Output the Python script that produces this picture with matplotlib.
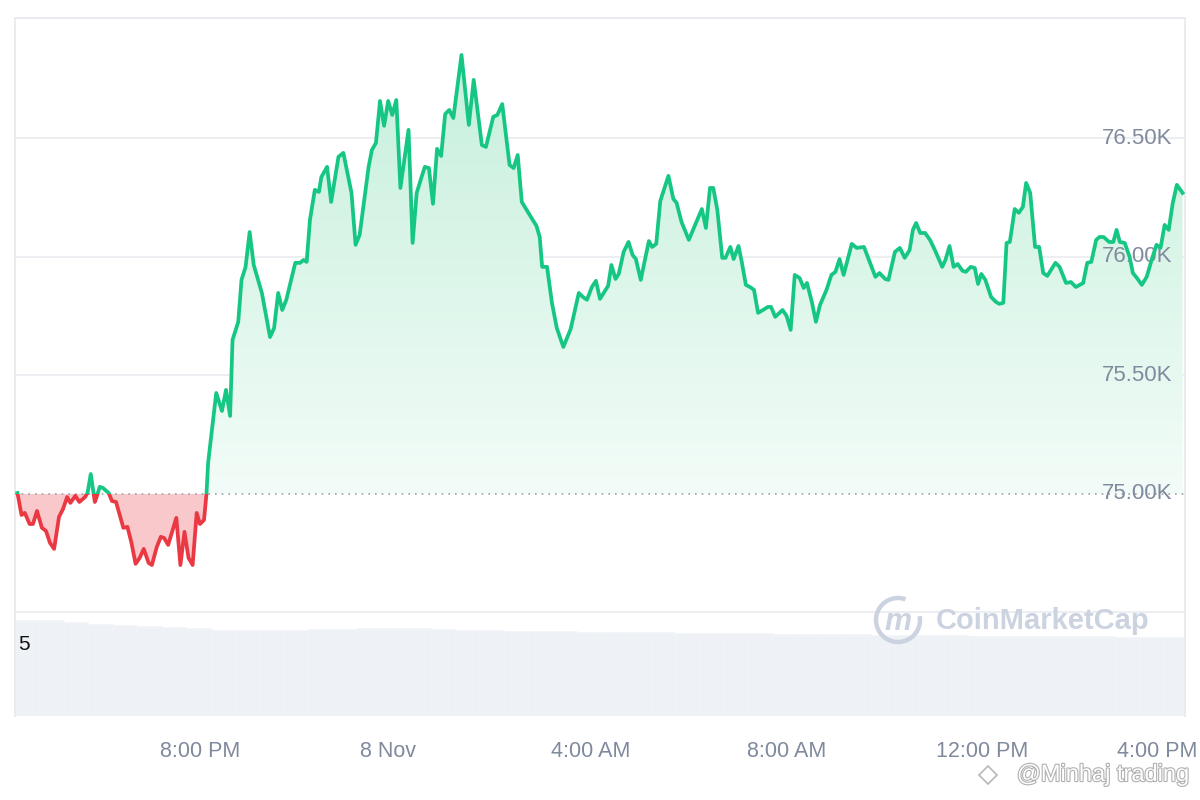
import matplotlib

matplotlib.use("Agg")
import matplotlib.pyplot as plt
import matplotlib.patheffects as pe
import numpy as np
from matplotlib.colors import LinearSegmentedColormap
from matplotlib.patches import Arc, Rectangle
from matplotlib.transforms import ScaledTranslation, blended_transform_factory

plt.rcParams["font.family"] = ["Liberation Sans", "DejaVu Sans"]

# ── Data (minutes after 7 Nov 16:00, BTC price in USD) ───────────────────────
minutes = [
    16, 21, 25, 31, 35, 40, 46, 51, 56, 61,
    67, 72, 77, 81, 87, 92, 99, 102, 106, 111,
    114, 117, 121, 128, 132, 137, 146, 151, 156, 161,
    166, 171, 177, 181, 187, 192, 196, 201, 211, 216,
    221, 226, 231, 236, 240, 245, 248, 250, 260, 267,
    272, 277, 280, 287, 291, 296, 301, 306, 316, 326,
    331, 336, 341, 346, 357, 363, 367, 371, 375, 381,
    386, 389, 396, 401, 410, 416, 426, 431, 436, 447,
    451, 456, 461, 466, 471, 476, 481, 486, 496, 501,
    506, 512, 516, 521, 526, 531, 536, 541, 546, 551,
    561, 570, 576, 586, 591, 600, 605, 611, 620, 625,
    630, 635, 647, 653, 657, 660, 666, 672, 678, 686,
    695, 705, 710, 715, 721, 726, 731, 741, 745, 750,
    754, 760, 766, 771, 775, 781, 791, 795, 800, 805,
    815, 821, 825, 831, 840, 856, 861, 866, 870, 875,
    881, 885, 891, 895, 901, 905, 910, 915, 920, 925,
    931, 937, 941, 946, 955, 960, 965, 970, 976, 981,
    985, 991, 996, 1001, 1009, 1015, 1020, 1025, 1030, 1040,
    1046, 1055, 1062, 1069, 1074, 1081, 1085, 1093, 1099, 1105,
    1111, 1115, 1119, 1124, 1130, 1136, 1142, 1151, 1155, 1160,
    1165, 1170, 1176, 1180, 1186, 1191, 1195, 1199, 1204, 1211,
    1217, 1221, 1226, 1230, 1234, 1240, 1245, 1250, 1254, 1259,
    1265, 1270, 1275, 1280, 1290, 1295, 1303, 1309, 1315, 1324,
    1329, 1334, 1340, 1344, 1349, 1356, 1361, 1365, 1369, 1375,
    1381, 1385, 1390, 1396, 1402, 1408, 1414, 1419, 1424, 1429,
    1434, 1439, 1446,
]
prices = [
    75004, 74911, 74920, 74873, 74873, 74928, 74857, 74844, 74793, 74768,
    74903, 74937, 74987, 74962, 74992, 74966, 74987, 75004, 75084, 74966,
    74996, 75030, 75025, 75004, 74970, 74966, 74857, 74861, 74793, 74705,
    74730, 74768, 74709, 74700, 74776, 74819, 74814, 74785, 74899, 74700,
    74840, 74730, 74700, 74920, 74873, 74890, 75000, 75131, 75426, 75350,
    75439, 75329, 75650, 75726, 75903, 75958, 76105, 75966, 75848, 75662,
    75700, 75848, 75776, 75819, 75975, 75975, 75987, 75979, 76156, 76283,
    76274, 76337, 76380, 76232, 76422, 76439, 76270, 76051, 76093, 76380,
    76451, 76481, 76658, 76553, 76658, 76599, 76662, 76291, 76536, 76059,
    76270, 76337, 76380, 76375, 76224, 76456, 76426, 76603, 76620, 76586,
    76852, 76557, 76747, 76472, 76464, 76591, 76599, 76645, 76388, 76375,
    76430, 76232, 76164, 76131, 76084, 75958, 75958, 75806, 75700, 75620,
    75696, 75848, 75831, 75819, 75873, 75899, 75823, 75878, 75966, 75907,
    75928, 76021, 76063, 76008, 75991, 75903, 76067, 76042, 76055, 76236,
    76342, 76245, 76228, 76148, 76072, 76202, 76122, 76291, 76291, 76198,
    75996, 75996, 76042, 75991, 76046, 75979, 75882, 75873, 75861, 75764,
    75776, 75789, 75789, 75747, 75776, 75751, 75692, 75924, 75911, 75869,
    75890, 75810, 75726, 75797, 75861, 75924, 75937, 75991, 75924, 76055,
    76038, 76042, 75979, 75916, 75932, 75907, 75903, 76021, 76038, 75996,
    76029, 76114, 76143, 76101, 76101, 76072, 76029, 75958, 75987, 76046,
    75958, 75970, 75941, 75937, 75958, 75953, 75886, 75928, 75903, 75831,
    75810, 75802, 75806, 76059, 76063, 76202, 76186, 76211, 76312, 76270,
    76042, 76042, 75932, 75920, 75975, 75958, 75890, 75894, 75873, 75890,
    75975, 75979, 76072, 76084, 76084, 76063, 76063, 76114, 76063, 76059,
    76000, 75932, 75911, 75882, 75916, 75987, 76051, 76038, 76135, 76114,
    76228, 76304, 76270,
]
open_price = 75000

# volume per 30-min bucket (relative units)
volume = [
    96, 96, 94, 92, 91, 90, 89, 88, 86, 86, 86, 86, 87, 87, 88, 88,
    88, 87, 86, 86, 85, 85, 85, 84, 84, 84, 84, 83, 83, 83, 83, 82,
    82, 82, 82, 81, 81, 81, 81, 80, 80, 80, 80, 80, 80, 79, 79, 79,
]
vol_start, vol_step = 13, 30

price_ticks = [75000, 75500, 76000, 76500]
price_labels = ["75.00K", "75.50K", "76.00K", "76.50K"]
grid_levels = [74500, 75500, 76000, 76500]
time_ticks = [240, 480, 720, 960, 1200, 1440]
time_labels = ["8:00 PM", "8 Nov", "4:00 AM", "8:00 AM", "12:00 PM", "4:00 PM"]

GREEN = "#16c784"
RED = "#ea3943"
GREY_TXT = "#808a9d"
GRID = "#eceef2"

t = np.array(minutes, dtype=float)
p = np.array(prices, dtype=float)

fig = plt.figure(figsize=(12, 8), dpi=100)
fig.patch.set_facecolor("white")

rect = [15 / 1200, 84 / 800, 1170 / 1200, 698 / 800]
xlim = (13, 1449)

# ── Volume strip ─────────────────────────────────────────────────────────────
axv = fig.add_axes([rect[0], 84 / 800, rect[2], 104 / 800], zorder=1)
vt = vol_start + vol_step * (np.arange(len(volume)) + 0.5)
axv.bar(vt, volume, width=vol_step, color="#eef1f5", edgecolor="#f3f5f8", linewidth=0.4)
axv.set_xlim(*xlim)
axv.set_ylim(0, 104)
axv.axis("off")

# ── Price chart ──────────────────────────────────────────────────────────────
ax = fig.add_axes(rect, zorder=2)
ax.set_facecolor("none")
ax.set_xlim(*xlim)
ax.set_ylim(74063, 77008)

for g in grid_levels:
    ax.axhline(g, color=GRID, lw=1.4, zorder=1)
ax.axhline(open_price, color="#9aa1ad", lw=1.2, ls=(0, (1, 3)), zorder=3)

# green gradient above the open price
poly = ax.fill_between(t, p, open_price, color="none", lw=0)
cmap = LinearSegmentedColormap.from_list("g", ["#f3fcf8", "#c6f0dc"])
grad = np.linspace(0, 1, 256).reshape(-1, 1)
img = ax.imshow(grad, cmap=cmap, aspect="auto", origin="lower",
                extent=[xlim[0], xlim[1], open_price, p.max()], zorder=2)
img.set_clip_path(poly.get_paths()[0], transform=ax.transData)

# red fill below the open price
ax.fill_between(t, p, open_price, where=p < open_price, interpolate=True,
                color="#f8c8cb", lw=0, zorder=2)

# line, coloured by side of the open price
up = Rectangle((xlim[0], open_price), xlim[1] - xlim[0], 5000, transform=ax.transData)
dn = Rectangle((xlim[0], open_price - 5000), xlim[1] - xlim[0], 5000, transform=ax.transData)
lg, = ax.plot(t, p, color=GREEN, lw=2.7, solid_joinstyle="round", zorder=5)
lr, = ax.plot(t, p, color=RED, lw=2.7, solid_joinstyle="round", zorder=5)
lg.set_clip_path(up)
lr.set_clip_path(dn)

# price labels inside the right edge
ytr = blended_transform_factory(ax.transAxes, ax.transData)
for v, lab in zip(price_ticks, price_labels):
    ax.text(0.9895, v, lab, transform=ytr, ha="right", va="center",
            fontsize=16, color=GREY_TXT, zorder=4)

ax.set_yticks([])
ax.set_xticks(time_ticks)
ax.set_xticklabels(time_labels)
ax.tick_params(axis="x", length=0, pad=18, labelsize=15.5, labelcolor=GREY_TXT)
ax.get_xticklabels()[-1].set_transform(
    ax.get_xticklabels()[-1].get_transform() + ScaledTranslation(-0.2, 0, fig.dpi_scale_trans))
ax.get_xticklabels()[1].set_transform(
    ax.get_xticklabels()[1].get_transform() + ScaledTranslation(-0.07, 0, fig.dpi_scale_trans))

for side in ["left", "top", "right"]:
    ax.spines[side].set_color("#e8ebef")
    ax.spines[side].set_linewidth(1.4)
ax.spines["bottom"].set_visible(False)

# ── Overlay texts / watermarks (pixel coordinates) ──────────────────────────
ov = fig.add_axes([0, 0, 1, 1], zorder=3)
ov.set_xlim(0, 1200)
ov.set_ylim(800, 0)
ov.axis("off")

ov.text(18, 645, "5", fontsize=15, color="#111", va="center", ha="left")

wm = "#ccd3e0"
ov.add_patch(Arc((898, 620), 44, 44, theta1=-10, theta2=290, lw=3.2, color=wm))
ov.text(898, 622, "m", fontsize=22, fontweight="bold", style="italic",
        color=wm, ha="center", va="center")
ov.text(936, 621, "CoinMarketCap", fontsize=21, fontweight="bold",
        color=wm, ha="left", va="center")

ov.plot([988], [775], marker="D", ms=9, mfc="white", mec="#b8b8b8", mew=1.2)
ov.text(1190, 775, "@Minhaj trading", fontsize=17, color="white",
        ha="right", va="center",
        path_effects=[pe.Stroke(linewidth=1.6, foreground="#b0b0b0"), pe.Normal()])

fig.savefig("out.png", dpi=100, facecolor="white")
